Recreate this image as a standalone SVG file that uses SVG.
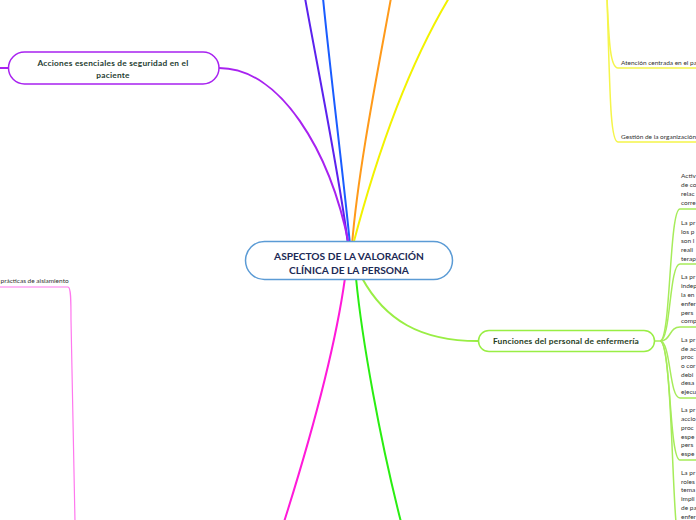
<svg xmlns="http://www.w3.org/2000/svg" width="696" height="520" viewBox="0 0 696 520">
<style>
.br{fill:none;stroke-width:2;stroke-linecap:round}
.th{fill:none;stroke-width:1.5}
.node{fill:#fff;stroke-width:1.5}
.t1{font-family:Lato,"Noto Sans",sans-serif;font-weight:bold;text-anchor:middle}
.tc{font-family:Lato,"Noto Sans",sans-serif;font-size:6.5px;fill:#333}
</style>
<rect width="696" height="520" fill="#fff"/>
<g id="connectors">
  <path class="br" stroke="#5b22ee" d="M348,245 C 342,190 318,70 305,-2"/>
  <path class="br" stroke="#1a5cff" d="M350,245 C 345,190 330,70 323,-2"/>
  <path class="br" stroke="#ff9a1a" d="M352,245 C 358,170 378,70 391,-2"/>
  <path class="br" stroke="#f2f200" stroke-width="1.6" d="M353,245 C 370,180 400,80 449,-2"/>
  <path class="br" stroke="#a822f0" d="M349,245 C 330,150 280,68 219,68"/>
  <path class="br" stroke="#a822f0" d="M8,68 L-2,68"/>
  <path class="br" stroke="#ff1ad9" d="M345,278 C 335,350 310,440 284,522"/>
  <path class="br" stroke="#2aee11" d="M356,278 C 362,340 380,440 401,522"/>
  <path class="br" stroke="#99ee44" d="M362,278 C 385,320 420,341 478,341"/>
  <path class="th" stroke="#f5f54a" d="M607,-2 C 609,40 610,68 618,68 L696,68"/>
  <path class="th" stroke="#f5f54a" d="M607,-2 C 610,90 610,142 618,142 L696,142"/>
  <g stroke="#a6ec5a" class="th">
    <path d="M655,341 L660,341"/>
    <path d="M660,341 C 671,341 669,209 680,209 L696,209"/>
    <path d="M660,341 C 671,341 669,264 680,264 L696,264"/>
    <path d="M660,341 C 671,341 669,327 680,327 L696,327"/>
    <path d="M660,341 C 671,341 669,398 680,398 L696,398"/>
    <path d="M660,341 C 671,341 669,460 680,460 L696,460"/>
    <path d="M660,341 C 671,341 672,480 676,522"/>
  </g>
  <path fill="none" stroke="#ff77ee" stroke-width="1.2" d="M-2,287 L68,287 C 71,287 71,300 71,320 L75,522"/>
</g>
<g id="center">
  <rect class="node" x="245.5" y="241.5" width="207" height="38" rx="19" stroke="#5b9bd5"/>
  <text class="t1" x="349" y="259.5" font-size="10.2" fill="#1c2a55">ASPECTOS DE LA VALORACIÓN</text>
  <text class="t1" x="349" y="273.5" font-size="10.2" fill="#1c2a55">CLÍNICA DE LA PERSONA</text>
</g>
<g id="acciones">
  <rect class="node" x="8.5" y="52" width="210.5" height="32" rx="16" stroke="#a822f0"/>
  <text class="t1" x="113" y="66" font-size="8.3" letter-spacing="0.25" fill="#1f3d32">Acciones esenciales de seguridad en el</text>
  <text class="t1" x="113" y="77.5" font-size="8.3" letter-spacing="0.25" fill="#1f3d32">paciente</text>
</g>
<g id="funciones">
  <rect class="node" x="478.5" y="330.5" width="176" height="21" rx="10.5" stroke="#99ee44"/>
  <text class="t1" x="566" y="344" font-size="8.4" letter-spacing="0.2" fill="#1f3d22">Funciones del personal de enfermería</text>
</g>
<g id="atencion"><text class="tc" x="621" y="64.5">Atención centrada en el pa</text></g>
<g id="gestion"><text class="tc" x="621" y="138.5">Gestión de la organización</text></g>
<g id="aislamiento"><text class="tc" x="0.5" y="283">prácticas de aislamiento</text></g>
<g id="child1">
  <text class="tc" x="681" y="177.5">Activ</text>
  <text class="tc" x="681" y="186.5">de co</text>
  <text class="tc" x="681" y="195.5">relac</text>
  <text class="tc" x="681" y="204.5">corre</text>
</g>
<g id="child2">
  <text class="tc" x="681" y="224.5">La pr</text>
  <text class="tc" x="681" y="233.5">los p</text>
  <text class="tc" x="681" y="242.5">son l</text>
  <text class="tc" x="681" y="251.5">reali</text>
  <text class="tc" x="681" y="260.5">terap</text>
</g>
<g id="child3">
  <text class="tc" x="681" y="278.5">La pr</text>
  <text class="tc" x="681" y="287.5">indep</text>
  <text class="tc" x="681" y="296.5">la en</text>
  <text class="tc" x="681" y="305.5">enfer</text>
  <text class="tc" x="681" y="314.5">pers</text>
  <text class="tc" x="681" y="322.5">comp</text>
</g>
<g id="child4">
  <text class="tc" x="681" y="341.5">La pr</text>
  <text class="tc" x="681" y="350.5">de ac</text>
  <text class="tc" x="681" y="358.5">proc</text>
  <text class="tc" x="681" y="367.5">o cor</text>
  <text class="tc" x="681" y="376.5">debi</text>
  <text class="tc" x="681" y="384.5">desa</text>
  <text class="tc" x="681" y="393.5">ejecu</text>
</g>
<g id="child5">
  <text class="tc" x="681" y="411.5">La pr</text>
  <text class="tc" x="681" y="420.5">accio</text>
  <text class="tc" x="681" y="429.5">proc</text>
  <text class="tc" x="681" y="438.5">espe</text>
  <text class="tc" x="681" y="446.5">pers</text>
  <text class="tc" x="681" y="455.5">espe</text>
</g>
<g id="child6">
  <text class="tc" x="681" y="474.5">La pr</text>
  <text class="tc" x="681" y="483.5">roles</text>
  <text class="tc" x="681" y="491.5">tema</text>
  <text class="tc" x="681" y="500.5">impli</text>
  <text class="tc" x="681" y="509.5">de pa</text>
  <text class="tc" x="681" y="518.5">enfer</text>
</g>
</svg>
